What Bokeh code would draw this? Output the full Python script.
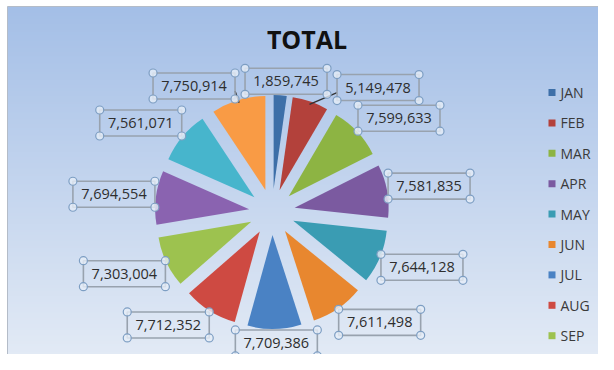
import numpy as np
from bokeh.plotting import figure
from bokeh.models import Range1d, ColumnDataSource
from bokeh.core.properties import value
from bokeh.embed import file_html
from bokeh.resources import INLINE

# ---- data ----
months = ["JAN", "FEB", "MAR", "APR", "MAY", "JUN",
          "JUL", "AUG", "SEP", "OCT", "NOV", "DEC"]
totals = [1859745, 5149478, 7599633, 7581835, 7644128, 7611498,
          7709386, 7712352, 7303004, 7694554, 7561071, 7750914]
legend_months = months[:9]          # legend is clipped after SEP in the original
title_text = "TOTAL"

# ---- styles ----
colors = ["#3d6fa8", "#b3413b", "#8db443", "#7b5aa0", "#3a9cb3", "#e8872f",
          "#4a82c4", "#ce4a42", "#9dc24f", "#8a63b0", "#47b5cc", "#f99b45"]
FONT = value("Open Sans")

W, H = 598, 354
p = figure(width=W, height=H, x_range=Range1d(0, W), y_range=Range1d(0, H),
           output_backend="svg", toolbar_location=None, min_border=0)
p.axis.visible = False
p.grid.visible = False
p.outline_line_color = None
p.background_fill_color = "white"
p.border_fill_color = "white"

# chart-area background: vertical gradient (starts a few px in, like the sheet)
gx, gtop = 7, H - 6
top = np.array([164, 191, 231], dtype=float)
bot = np.array([229, 236, 246], dtype=float)
gh = gtop
t = np.linspace(0, 1, gh)[:, None] * (gh / 362.0)
cols = bot + (top - bot) * (t + (1 - gh / 362.0))
img = np.empty((gh, 1), dtype=np.uint32)
view = img.view(dtype=np.uint8).reshape((gh, 1, 4))
view[:, 0, 0] = cols[:, 0]
view[:, 0, 1] = cols[:, 1]
view[:, 0, 2] = cols[:, 2]
view[:, 0, 3] = 255
p.image_rgba(image=[img], x=gx, y=0, dw=W - gx, dh=gh)
p.segment(x0=[gx, gx], y0=[0, gtop], x1=[gx, W], y1=[gtop, gtop],
          line_color="#b4bcc8", line_width=1)

# ---- exploded pie ----
vals = np.array(totals, dtype=float)
frac = vals / vals.sum()
cum = np.concatenate([[0.0], np.cumsum(frac)])
start = np.pi / 2 - 2 * np.pi * cum[1:]
end = np.pi / 2 - 2 * np.pi * cum[:-1]
mid = (start + end) / 2
cx, cy = 271.5, 142.5
explode, radius = 23.0, 94.0

src = ColumnDataSource(dict(
    x=cx + explode * np.cos(mid), y=cy + explode * np.sin(mid),
    start=start, end=end, color=colors, month=months))
p.wedge(x="x", y="y", radius=radius, start_angle="start", end_angle="end",
        fill_color="color", line_color=None, source=src)

# ---- data labels (outside end, Excel-like) ----
r_anchor = 118.0
bw, bh = 82.0, 26.0
c, s = np.cos(mid), np.sin(mid)
ax_, ay_ = cx + r_anchor * c, cy + r_anchor * s
bx = ax_ + bw / 2 * np.clip(2 * c, -1, 1)
by = ay_ + bh / 2 * np.clip(2 * s, -1, 1)
bx0 = bx.copy()
placed = []
for i in np.argsort(np.abs(c)):
    for j in placed:
        if abs(bx[i] - bx[j]) < bw and abs(by[i] - by[j]) < bh:
            sgn = 1.0 if c[i] >= 0 else -1.0
            bx[i] = bx[j] + sgn * (bw + 10)
    placed.append(i)

shifted = np.abs(bx - bx0) > 20
if shifted.any():
    ex = cx + (explode + radius - 3) * c[shifted]
    ey = cy + (explode + radius - 3) * s[shifted]
    p.segment(x0=ex, y0=ey, x1=bx[shifted] - bw / 2 * np.sign(c[shifted]),
              y1=by[shifted] - bh / 2 + 8, line_color="#333333", line_width=1.4)

p.rect(x=bx, y=by, width=bw, height=bh, fill_color=None,
       line_color="#98a2ae", line_width=1.6)
hx = np.concatenate([bx - bw / 2, bx + bw / 2, bx - bw / 2, bx + bw / 2])
hy = np.concatenate([by - bh / 2, by - bh / 2, by + bh / 2, by + bh / 2])
p.scatter(x=hx, y=hy, size=8, marker="circle", fill_color="#e6edf7",
          fill_alpha=0.8, line_color="#7d9ec3", line_width=1.2)
p.text(x=bx, y=by, text=[f"{v:,}" for v in totals], text_align="center",
       text_baseline="middle", text_font=FONT, text_font_size="14.5px",
       text_color="#2e2e2e")

# ---- title ----
p.text(x=[306.5], y=[H - 38], text=[title_text], text_align="center",
       text_baseline="middle", text_font=FONT, text_font_size="25px",
       text_font_style="bold", text_color="#111111")

# ---- legend ----
n = len(legend_months)
ly = H - (92 + 30.4 * np.arange(n))
p.rect(x=[551.5] * n, y=ly, width=7, height=7, fill_color=colors[:n],
       line_color=None)
p.text(x=[560] * n, y=ly, text=legend_months, text_align="left",
       text_baseline="middle", text_font=FONT, text_font_size="14px",
       text_color="#3a3a3a")

open("out.html", "w").write(file_html(p, INLINE))
